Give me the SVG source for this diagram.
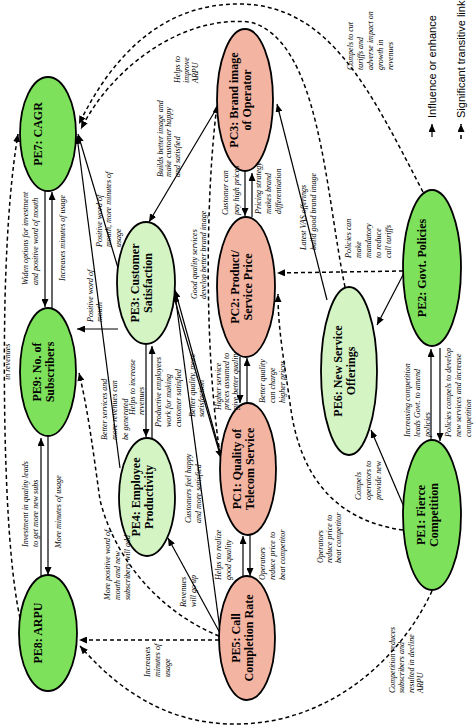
<svg xmlns="http://www.w3.org/2000/svg" width="474" height="726" viewBox="0 0 474 726">
<defs>
<marker id="ah" markerUnits="userSpaceOnUse" markerWidth="8" markerHeight="7" refX="8" refY="3.5" orient="auto"><path d="M0,0 L8,3.5 L0,7 z" fill="#000"/></marker>
<style>
.n{stroke:#000;stroke-width:1.8}
.dg{fill:#7ee15b}.lg{fill:#d4f4c4}.sa{fill:#f4b4a2}
.nt{font-family:"Liberation Serif",serif;font-weight:bold;font-size:12px;fill:#000;text-anchor:middle}
.lb{font-family:"Liberation Serif",serif;font-style:italic;font-size:8px;fill:#000}
.lgd{font-family:"Liberation Sans",sans-serif;font-size:11px;fill:#000}
.s{fill:none;stroke:#000;stroke-width:1.2;marker-end:url(#ah)}
.d{fill:none;stroke:#000;stroke-width:1.5;stroke-dasharray:4,3;marker-end:url(#ah)}
</style>
</defs>
<rect width="474" height="726" fill="#fff"/>
<g id="connectors">
<path class="s" d="M45,191 L45,307"/>
<path class="s" d="M52,308 L52,192"/>
<path class="s" d="M41,576 L41,438"/>
<path class="s" d="M48,437 L48,575"/>
<path class="s" d="M118,329 L77,329"/>
<path class="s" d="M118,268 L78,134"/>
<path class="s" d="M120,468 L77,136"/>
<path class="s" d="M146,345 L146,437"/>
<path class="s" d="M152,438 L152,346"/>
<path class="s" d="M218,106 L149,222"/>
<path class="s" d="M245,172 L245,216"/>
<path class="s" d="M252,217 L252,173"/>
<path class="s" d="M240,357 L240,403"/>
<path class="s" d="M247,404 L247,358"/>
<path class="s" d="M243,577 L243,536"/>
<path class="s" d="M250,535 L250,576"/>
<path class="s" d="M220,452 L175,290"/>
<path class="s" d="M174,297 L221,458"/>
<path class="s" d="M220,630 L175,294"/>
<path class="s" d="M220,633 L168,538"/>
<path class="s" d="M327,300 L277,104"/>
<path class="s" d="M404,273 L377,325"/>
<path class="s" d="M431,441 L431,349"/>
<path class="s" d="M440,348 L440,441"/>
<path class="s" d="M404,507 L371,430"/>
<path class="d" d="M423,192 C370,90 330,5 240,4 C160,3 110,60 79,124"/>
<path class="d" d="M345,287 C325,190 320,40 250,22 C180,15 110,70 81,129"/>
<path class="d" d="M219,447 C205,350 205,200 217,105"/>
<path class="d" d="M403,271 L277,273"/>
<path class="d" d="M403,530 C330,520 300,470 291,410 C284,360 278,330 278,294"/>
<path class="d" d="M432,591 C400,660 330,722 240,724 C160,726 110,680 80,646"/>
<path class="d" d="M219,640 L79,640"/>
<path class="d" d="M219,636 C160,612 115,560 100,500 C93,450 88,410 79,373"/>
<path class="d" d="M20,618 C5,550 3,400 5,300 C7,220 12,170 18,134"/>
<path class="s" d="M432,137 L432,124"/>
<path class="d" d="M461,139 L461,124"/>
</g>
<g id="PE7"><ellipse class="n dg" cx="48" cy="134" rx="28" ry="57"/><text class="nt" transform="translate(42,134) rotate(-90)">PE7: CAGR</text></g>
<g id="PE9"><ellipse class="n dg" cx="48" cy="372" rx="28" ry="64"/><text class="nt" transform="translate(41,372) rotate(-90)"><tspan x="0" y="0">PE9: No. of</tspan><tspan x="0" dy="13">Subscribers</tspan></text></g>
<g id="PE8"><ellipse class="n dg" cx="48" cy="633" rx="29" ry="58"/><text class="nt" transform="translate(42,633) rotate(-90)">PE8: ARPU</text></g>
<g id="PE3"><ellipse class="n lg" cx="146" cy="283" rx="29" ry="61"/><text class="nt" transform="translate(139,283) rotate(-90)"><tspan x="0" y="0">PE3: Customer</tspan><tspan x="0" dy="13">Satisfaction</tspan></text></g>
<g id="PE4"><ellipse class="n lg" cx="147" cy="497" rx="28" ry="59"/><text class="nt" transform="translate(140,497) rotate(-90)"><tspan x="0" y="0">PE4: Employee</tspan><tspan x="0" dy="13">Productivity</tspan></text></g>
<g id="PC3"><ellipse class="n sa" cx="245" cy="100" rx="28" ry="71"/><text class="nt" transform="translate(238,100) rotate(-90)"><tspan x="0" y="0">PC3: Brand image</tspan><tspan x="0" dy="13">of Operator</tspan></text></g>
<g id="PC2"><ellipse class="n sa" cx="246" cy="287" rx="29" ry="70"/><text class="nt" transform="translate(239,287) rotate(-90)"><tspan x="0" y="0">PC2: Product/</tspan><tspan x="0" dy="13">Service Price</tspan></text></g>
<g id="PC1"><ellipse class="n sa" cx="248" cy="469" rx="28" ry="66"/><text class="nt" transform="translate(241,469) rotate(-90)"><tspan x="0" y="0">PC1: Quality of</tspan><tspan x="0" dy="13">Telecom Service</tspan></text></g>
<g id="PE5"><ellipse class="n sa" cx="247" cy="638" rx="28" ry="62"/><text class="nt" transform="translate(240,638) rotate(-90)"><tspan x="0" y="0">PE5: Call</tspan><tspan x="0" dy="13">Completion Rate</tspan></text></g>
<g id="PE6"><ellipse class="n lg" cx="349" cy="371" rx="28" ry="84"/><text class="nt" transform="translate(342,371) rotate(-90)"><tspan x="0" y="0">PE6: New Service</tspan><tspan x="0" dy="13">Offerings</tspan></text></g>
<g id="PE2"><ellipse class="n dg" cx="432" cy="268" rx="29" ry="78"/><text class="nt" transform="translate(426,268) rotate(-90)">PE2: Govt. Policies</text></g>
<g id="PE1"><ellipse class="n dg" cx="432" cy="515" rx="29" ry="75"/><text class="nt" transform="translate(425,515) rotate(-90)"><tspan x="0" y="0">PE1: Fierce</tspan><tspan x="0" dy="13">Competition</tspan></text></g>
<g id="labels">
<text class="lb" transform="translate(27.5,285) rotate(-90)"><tspan x="0" y="0">Widen options for investment</tspan><tspan x="0" dy="10">and positive word of mouth</tspan></text>
<text class="lb" transform="translate(64.5,281) rotate(-90)">Increases minutes of usage</text>
<text class="lb" transform="translate(27.5,547) rotate(-90)"><tspan x="0" y="0">Investment in quality leads</tspan><tspan x="0" dy="10">to get more new subs</tspan></text>
<text class="lb" transform="translate(60.5,548) rotate(-90)">More minutes of usage</text>
<text class="lb" transform="translate(92.5,322) rotate(-90)"><tspan x="0" y="0">Positive word of</tspan><tspan x="0" dy="9">mouth</tspan></text>
<text class="lb" transform="translate(101.5,247) rotate(-90)"><tspan x="0" y="0">Positive word of</tspan><tspan x="0" dy="9.5">mouth,  more minutes of</tspan><tspan x="0" dy="9.5">usage</tspan></text>
<text class="lb" transform="translate(162.5,177) rotate(-90)"><tspan x="0" y="0">Builds better image and</tspan><tspan x="0" dy="8.5">make customer happy</tspan><tspan x="0" dy="8.5">and satisfied</tspan></text>
<text class="lb" transform="translate(179.5,83) rotate(-90)"><tspan x="0" y="0">Helps to</tspan><tspan x="0" dy="9">improve</tspan><tspan x="0" dy="9">ARPU</tspan></text>
<text class="lb" transform="translate(352.5,70) rotate(-90)"><tspan x="0" y="0">Compels to cut</tspan><tspan x="0" dy="10">tariffs and</tspan><tspan x="0" dy="10">adverse impact on</tspan><tspan x="0" dy="10">growth in</tspan><tspan x="0" dy="10">revenues</tspan></text>
<text class="lb" transform="translate(305.5,250) rotate(-90)"><tspan x="0" y="0">Latest VAS offerings</tspan><tspan x="0" dy="10">build good brand image</tspan></text>
<text class="lb" transform="translate(228,215) rotate(-90)"><tspan x="0" y="0">Customer can</tspan><tspan x="0" dy="10.5">pay high prices</tspan></text>
<text class="lb" transform="translate(260.5,214) rotate(-90)"><tspan x="0" y="0">Pricing strategy</tspan><tspan x="0" dy="10">makes brand</tspan><tspan x="0" dy="10">differentiation</tspan></text>
<text class="lb" transform="translate(196.5,299) rotate(-90)"><tspan x="0" y="0">Good quality services</tspan><tspan x="0" dy="9">develop better brand image</tspan></text>
<text class="lb" transform="translate(350.5,258) rotate(-90)"><tspan x="0" y="0">Policies can</tspan><tspan x="0" dy="10">make</tspan><tspan x="0" dy="10">mandatory</tspan><tspan x="0" dy="10">to reduce</tspan><tspan x="0" dy="10">call tariffs</tspan></text>
<text class="lb" transform="translate(134.5,415) rotate(-90)"><tspan x="0" y="0">Helps to increase</tspan><tspan x="0" dy="9">revenues</tspan></text>
<text class="lb" transform="translate(160.5,427) rotate(-90)"><tspan x="0" y="0">Productive employees</tspan><tspan x="0" dy="10">work for making</tspan><tspan x="0" dy="10">customer satisfied</tspan></text>
<text class="lb" transform="translate(106.5,440) rotate(-90)"><tspan x="0" y="0">Better services and</tspan><tspan x="0" dy="10.5">more revenues can</tspan><tspan x="0" dy="10.5">be generated</tspan></text>
<text class="lb" transform="translate(194.5,417) rotate(-90)"><tspan x="0" y="0">Better quality, more</tspan><tspan x="0" dy="9.5">satisfaction</tspan></text>
<text class="lb" transform="translate(220.5,410) rotate(-90)"><tspan x="0" y="0">Higher service</tspan><tspan x="0" dy="8.5">prices assumed to</tspan><tspan x="0" dy="8.5">give better quality</tspan></text>
<text class="lb" transform="translate(264.5,403) rotate(-90)"><tspan x="0" y="0">Better quality</tspan><tspan x="0" dy="10">can charge</tspan><tspan x="0" dy="10">higher prices</tspan></text>
<text class="lb" transform="translate(190.5,523) rotate(-90)"><tspan x="0" y="0">Customers feel happy</tspan><tspan x="0" dy="10">and more satisfied</tspan></text>
<text class="lb" transform="translate(220.5,580) rotate(-90)"><tspan x="0" y="0">Helps to realize</tspan><tspan x="0" dy="10">good quality</tspan></text>
<text class="lb" transform="translate(264.5,580) rotate(-90)"><tspan x="0" y="0">Operators</tspan><tspan x="0" dy="10">reduce price to</tspan><tspan x="0" dy="10">beat competitor</tspan></text>
<text class="lb" transform="translate(185.5,607) rotate(-90)"><tspan x="0" y="0">Revenues</tspan><tspan x="0" dy="10">will go up</tspan></text>
<text class="lb" transform="translate(109.5,600) rotate(-90)"><tspan x="0" y="0">More positive word of</tspan><tspan x="0" dy="10">mouth and new</tspan><tspan x="0" dy="10">subscribers will add</tspan></text>
<text class="lb" transform="translate(149.5,677) rotate(-90)"><tspan x="0" y="0">Increases</tspan><tspan x="0" dy="10">minutes of</tspan><tspan x="0" dy="10">usage</tspan></text>
<text class="lb" transform="translate(394.5,693) rotate(-90)"><tspan x="0" y="0">Competition reduces</tspan><tspan x="0" dy="9.5">subscribers and</tspan><tspan x="0" dy="9.5">resulted in decline</tspan><tspan x="0" dy="9.5">ARPU</tspan></text>
<text class="lb" transform="translate(322.5,563) rotate(-90)"><tspan x="0" y="0">Operators</tspan><tspan x="0" dy="9">reduce price to</tspan><tspan x="0" dy="9">beat competitor</tspan></text>
<text class="lb" transform="translate(360.5,500) rotate(-90)"><tspan x="0" y="0">Compels</tspan><tspan x="0" dy="10">operators to</tspan><tspan x="0" dy="10">provide new</tspan></text>
<text class="lb" transform="translate(409.5,437) rotate(-90)"><tspan x="0" y="0">Increasing competition</tspan><tspan x="0" dy="10">leads Govt. to amend</tspan><tspan x="0" dy="10">policies</tspan></text>
<text class="lb" transform="translate(450.5,437) rotate(-90)"><tspan x="0" y="0">Policies compels to develop</tspan><tspan x="0" dy="10">new services and increase</tspan><tspan x="0" dy="10">competition</tspan></text>
<text class="lb" transform="translate(9.5,380) rotate(-90)">in revenues</text>
</g>
<g id="legend">
<text class="lgd" transform="translate(436,118) rotate(-90)">Influence or   enhance</text>
<text class="lgd" transform="translate(465,118) rotate(-90)">Significant transitive link</text>
</g>
</svg>
